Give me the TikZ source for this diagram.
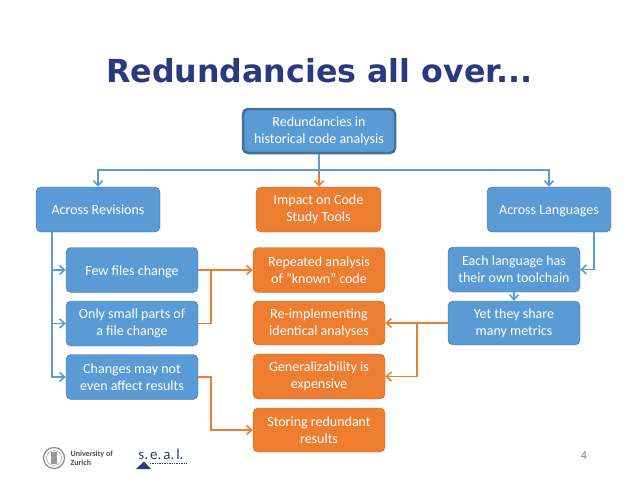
\documentclass[tikz,border=0pt]{standalone}
\usepackage{fontspec}
\setmainfont{Carlito}
\newfontfamily\titlefont{DejaVu Sans}
\definecolor{boxblue}{HTML}{5B9BD5}
\definecolor{edgeblue}{HTML}{41719C}
\definecolor{boxorange}{HTML}{ED7D31}
\definecolor{edgeorange}{HTML}{C5682A}
\definecolor{titleblue}{HTML}{2B3A80}
\usetikzlibrary{arrows.meta}
\newcommand{\oneline}[1]{\raisebox{0pt}[10pt][0pt]{#1}}
\tikzset{
  bluebox/.style={draw=edgeblue, fill=boxblue, rounded corners=5pt, text=white, align=center, font=\fontsize{14}{17}\selectfont, inner sep=0pt},
  orangebox/.style={bluebox, draw=edgeorange, fill=boxorange},
  bluearrow/.style={draw=boxblue, line width=1.6pt, -{Straight Barb[length=5pt,width=9pt]}},
  orangearrow/.style={draw=boxorange, line width=1.6pt, -{Straight Barb[length=5pt,width=9pt]}},
}
\begin{document}
\begin{tikzpicture}[x=1pt,y=-1pt]
\useasboundingbox (0,0) rectangle (638,479);
\node[font=\titlefont\bfseries\fontsize{31.7}{36}\selectfont, text=titleblue, anchor=base] (title) at (319.5,82) {Redundancies all over...};
% boxes
\node[bluebox, draw=edgeblue, line width=2.5pt, minimum width=152pt, minimum height=44pt] (root) at (319,131) {Redundancies in\\historical code analysis};
\node[bluebox, minimum width=124pt, minimum height=45pt] (revisions) at (98,209.5) {\oneline{Across Revisions}};
\node[orangebox, minimum width=125pt, minimum height=45pt] (impact) at (318.5,209.5) {Impact on Code\\Study Tools};
\node[bluebox, minimum width=124pt, minimum height=45pt] (languages) at (549,209.5) {\oneline{Across Languages}};
\node[bluebox, minimum width=132pt, minimum height=45pt] (few) at (132,270) {\oneline{Few files change}};
\node[bluebox, minimum width=132pt, minimum height=45pt] (parts) at (132,323.5) {Only small parts of\\a file change};
\node[bluebox, minimum width=132pt, minimum height=45pt] (changes) at (132,377) {Changes may not\\even affect results};
\node[orangebox, minimum width=132pt, minimum height=45pt] (repeated) at (319,270) {Repeated analysis\\of "known" code};
\node[orangebox, minimum width=132pt, minimum height=44pt] (reimpl) at (319,323) {Re-implementing\\identical analyses};
\node[orangebox, minimum width=132pt, minimum height=45pt] (general) at (319,376.5) {Generalizability is\\expensive};
\node[orangebox, minimum width=132pt, minimum height=44pt] (storing) at (319,430) {Storing redundant\\results};
\node[bluebox, minimum width=132pt, minimum height=45pt] (toolchain) at (514,269.5) {Each language has\\their own toolchain};
\node[bluebox, minimum width=132pt, minimum height=44pt] (metrics) at (514,323) {Yet they share\\many metrics};
% connectors
\coordinate (rootdown) at (319,170);
\draw[orangearrow] (rootdown) -- (impact.north -| rootdown);
\draw[boxblue, line width=1.6pt] (root.south) -- (319,173);
\draw[bluearrow] (rootdown) -| (revisions.north);
\draw[bluearrow] (rootdown) -| (languages.north);
\coordinate (revdown) at (52,232);
\draw[bluearrow] (revdown) |- (few.west);
\draw[bluearrow] (revdown) |- (parts.west);
\draw[bluearrow] (revdown) |- (changes.west);
\coordinate (langdown) at (594,232);
\draw[bluearrow] (langdown) |- (toolchain.east);
\draw[bluearrow] (toolchain.south) -- (metrics.north);
\coordinate (leftbus) at (211,323.5);
\draw[orangearrow] (few.east) -- (repeated.west);
\draw[draw=boxorange, line width=1.6pt] (parts.east) -- (leftbus) -- (leftbus |- few.east);
\coordinate (lowbus) at (211,377);
\draw[orangearrow] (changes.east) -- (lowbus) |- (storing.west);
\coordinate (rightbus) at (417,323);
\draw[orangearrow] (metrics.west) -- (reimpl.east);
\draw[orangearrow] (rightbus) |- (general.east);
% footer
\node[text=black!50, font=\fontsize{12}{14}\selectfont] (pagenum) at (584,456) {4};
\node[draw=black!45, circle, line width=1.2pt, minimum size=21pt, inner sep=0pt] (crest) at (54,458) {};
\node[draw=black!45, circle, minimum size=15pt, inner sep=0pt] (crestin) at (crest) {};
\fill[black!40] (51,452) rectangle (57,464);
\node[text=black!70, anchor=west, align=left, font=\bfseries\fontsize{8}{8.5}\selectfont] (uzh) at (67,458) {University of\\Zurich};
\node[text=titleblue, anchor=base, font=\fontsize{15}{15}\selectfont] (seal) at (161,459) {s.\hspace{2pt}e.\hspace{2pt}a.\hspace{2pt}l.};
\fill[titleblue] (136,469) -- (151,469) -- (144,461.5) -- cycle;
\draw[titleblue, densely dotted, line width=0.7pt] (150,463) -- (187,463);
\end{tikzpicture}
\end{document}
